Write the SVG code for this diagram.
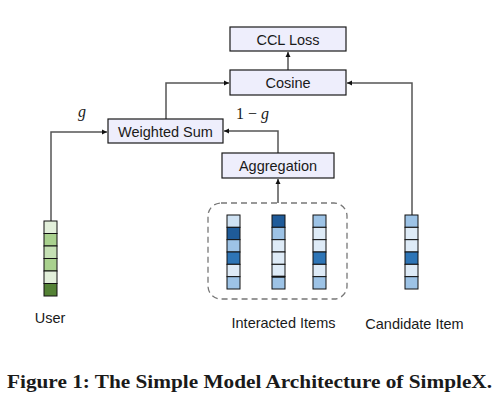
<svg xmlns="http://www.w3.org/2000/svg" width="501" height="408" viewBox="0 0 501 408">
<defs>
<style>
.box{fill:#eeeefc;stroke:#1a1a1a;stroke-width:1.2}
.lbl{font-family:"Liberation Sans",Arial,sans-serif;font-size:14.5px;fill:#1a1a1a;text-anchor:middle}
.wire{fill:none;stroke:#555;stroke-width:1.5}
.cell{stroke:#111;stroke-width:1}
.math{font-family:"Liberation Serif","Times New Roman",serif;font-size:16px;fill:#1a1a1a}
.g1{fill:#e2efda}.g2{fill:#a9d18e}.g3{fill:#c5e0b4}.g6{fill:#548235}
.b1{fill:#deebf7}.b2{fill:#9dc3e6}.b3{fill:#2e75b6}.b4{fill:#1f5b99}.b5{fill:#cfe2f3}
</style>
<marker id="arr" markerWidth="6" markerHeight="6" refX="5" refY="3" orient="auto" markerUnits="userSpaceOnUse">
<path d="M0,0.5 L5,3 L0,5.5 Z" fill="#111"/>
</marker>
</defs>
<rect width="501" height="408" fill="#fff"/>
<g id="connectors">
<path class="wire" d="M288,70 L288,52" marker-end="url(#arr)"/>
<path class="wire" d="M166,119 L166,83 L229,83" marker-end="url(#arr)"/>
<path class="wire" d="M412,215 L412,83 L347,83" marker-end="url(#arr)"/>
<path class="wire" d="M51,221 L51,132 L107,132" marker-end="url(#arr)"/>
<path class="wire" d="M278,153 L278,131 L224,131" marker-end="url(#arr)"/>
<path class="wire" d="M278,203 L278,179" marker-end="url(#arr)"/>
</g>
<g id="ccl-loss">
<rect class="box" x="230" y="27" width="116" height="24"/>
<text class="lbl" x="288" y="44.5">CCL Loss</text>
</g>
<g id="cosine">
<rect class="box" x="230" y="70" width="116" height="25"/>
<text class="lbl" x="288" y="88">Cosine</text>
</g>
<g id="weighted-sum">
<rect class="box" x="108" y="119" width="115" height="24"/>
<text class="lbl" x="165.5" y="136.5">Weighted Sum</text>
</g>
<g id="aggregation">
<rect class="box" x="222" y="153" width="112" height="25"/>
<text class="lbl" x="278" y="171">Aggregation</text>
</g>
<g id="labels-math">
<text class="math" x="78" y="117" font-style="italic">g</text>
<text class="math" x="236" y="119">1 − <tspan font-style="italic">g</tspan></text>
</g>
<g id="user">
<rect class="cell g1" x="44" y="221" width="13" height="12.5"/>
<rect class="cell g2" x="44" y="233.5" width="13" height="12.5"/>
<rect class="cell g3" x="44" y="246" width="13" height="12.5"/>
<rect class="cell g2" x="44" y="258.5" width="13" height="12.5"/>
<rect class="cell g1" x="44" y="271" width="13" height="12.5"/>
<rect class="cell g6" x="44" y="283.5" width="13" height="12.5"/>
<text class="lbl" x="50" y="323">User</text>
</g>
<g id="interacted-items">
<rect x="208" y="203" width="139" height="96" rx="13" ry="13" fill="none" stroke="#777" stroke-width="1.3" stroke-dasharray="6,4"/>
<rect class="cell b5" x="227" y="215" width="13" height="12.33"/>
<rect class="cell b4" x="227" y="227.33" width="13" height="12.33"/>
<rect class="cell b2" x="227" y="239.67" width="13" height="12.33"/>
<rect class="cell b3" x="227" y="252" width="13" height="12.33"/>
<rect class="cell b1" x="227" y="264.33" width="13" height="12.33"/>
<rect class="cell b2" x="227" y="276.67" width="13" height="12.33"/>
<rect class="cell b4" x="272" y="215" width="13" height="12.33"/>
<rect class="cell b2" x="272" y="227.33" width="13" height="12.33"/>
<rect class="cell b1" x="272" y="239.67" width="13" height="12.33"/>
<rect class="cell b1" x="272" y="252" width="13" height="12.33"/>
<rect class="cell b1" x="272" y="264.33" width="13" height="12.33"/>
<rect class="cell b2" x="272" y="276.67" width="13" height="12.33"/>
<line x1="272" y1="276.67" x2="285" y2="276.67" stroke="#111" stroke-width="2"/>
<rect class="cell b2" x="313" y="215" width="13" height="12.33"/>
<rect class="cell b1" x="313" y="227.33" width="13" height="12.33"/>
<rect class="cell b1" x="313" y="239.67" width="13" height="12.33"/>
<rect class="cell b3" x="313" y="252" width="13" height="12.33"/>
<rect class="cell b1" x="313" y="264.33" width="13" height="12.33"/>
<rect class="cell b2" x="313" y="276.67" width="13" height="12.33"/>
<text class="lbl" x="283.5" y="328">Interacted Items</text>
</g>
<g id="candidate-item">
<rect class="cell b2" x="405" y="215" width="13" height="12.33"/>
<rect class="cell b1" x="405" y="227.33" width="13" height="12.33"/>
<rect class="cell b1" x="405" y="239.67" width="13" height="12.33"/>
<rect class="cell b3" x="405" y="252" width="13" height="12.33"/>
<rect class="cell b1" x="405" y="264.33" width="13" height="12.33"/>
<rect class="cell b2" x="405" y="276.67" width="13" height="12.33"/>
<text class="lbl" x="414.5" y="329">Candidate Item</text>
</g>
<g id="caption">
<text x="7" y="388" font-family="'Liberation Serif','Times New Roman',serif" font-weight="bold" font-size="19" fill="#1a1a1a" textLength="485" lengthAdjust="spacingAndGlyphs">Figure 1: The Simple Model Architecture of SimpleX.</text>
</g>
</svg>
